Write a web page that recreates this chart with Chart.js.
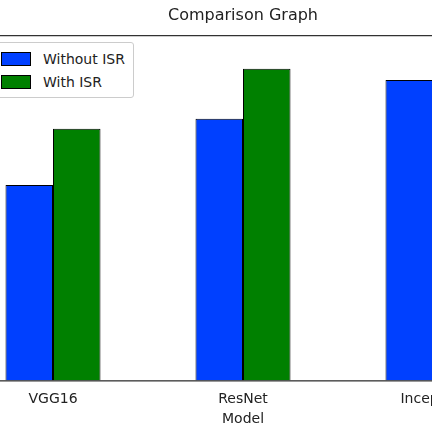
<!DOCTYPE html>
<html><head><meta charset="utf-8">
<script src="https://cdn.jsdelivr.net/npm/chart.js@4"></script>
<style>
html,body{margin:0;padding:0;width:432px;height:432px;overflow:hidden;background:#fff;font-family:"DejaVu Sans",sans-serif;}
#wrap{position:absolute;left:-100px;top:0;width:700px;height:432px;}
#legend{position:absolute;left:-10px;top:42px;border:1px solid #ccc;border-radius:3px;background:#fff;padding:4px 8px 4px 10px;font-size:14px;color:#222;}
#legend div{display:flex;align-items:center;height:23px;}
#legend span{display:inline-block;width:28px;height:12px;border:1px solid #000;margin-right:12px;}
</style></head>
<body>
<div id="wrap"><canvas id="c" width="700" height="432"></canvas></div>
<div id="legend"></div>
<script>
var models = ['VGG16', 'ResNet', 'Inception'];
var withoutISR = [0.566, 0.758, 0.870];
var withISR = [0.729, 0.903, 0.93];
var seriesNames = ['Without ISR', 'With ISR'];
var colors = ['#0040ff', '#008000'];

var frame = {
    id: 'frame',
    afterDraw: function(chart) {
        var a = chart.chartArea, c = chart.ctx;
        c.save();
        c.strokeStyle = '#000';
        c.lineWidth = 1;
        c.strokeRect(a.left + 0.5, a.top + 0.5, a.right - a.left, a.bottom - a.top);
        c.restore();
    }
};

var ctx = document.getElementById('c').getContext('2d');
var chart = new Chart(ctx, {
    type: 'bar',
    data: {
        labels: models,
        datasets: [{
            label: seriesNames[0],
            data: withoutISR,
            backgroundColor: colors[0],
            borderColor: '#000',
            borderWidth: 1
        }, {
            label: seriesNames[1],
            data: withISR,
            backgroundColor: colors[1],
            borderColor: '#000',
            borderWidth: 1
        }]
    },
    options: {
        responsive: false,
        animation: false,
        layout: { padding: { left: 58, right: 72, top: 6, bottom: 4 } },
        datasets: { bar: { categoryPercentage: 0.5, barPercentage: 1 } },
        plugins: {
            legend: { display: false },
            tooltip: { enabled: false },
            title: {
                display: true,
                text: 'Comparison Graph',
                color: '#222',
                font: { family: 'DejaVu Sans', size: 16, weight: 'normal' },
                padding: { top: 0, bottom: 10 }
            }
        },
        scales: {
            x: {
                grid: { display: false, drawTicks: true },
                ticks: { color: '#222', font: { family: 'DejaVu Sans', size: 14 } },
                title: { display: true, text: 'Model', color: '#222', font: { family: 'DejaVu Sans', size: 14 }, padding: 0 }
            },
            y: { display: false, min: 0, max: 1 }
        }
    },
    plugins: [frame]
});

var lg = document.getElementById('legend');
seriesNames.forEach(function(n, i) {
    var d = document.createElement('div');
    d.innerHTML = '<span style="background:' + colors[i] + '"></span>' + n;
    lg.appendChild(d);
});
</script>
</body></html>
